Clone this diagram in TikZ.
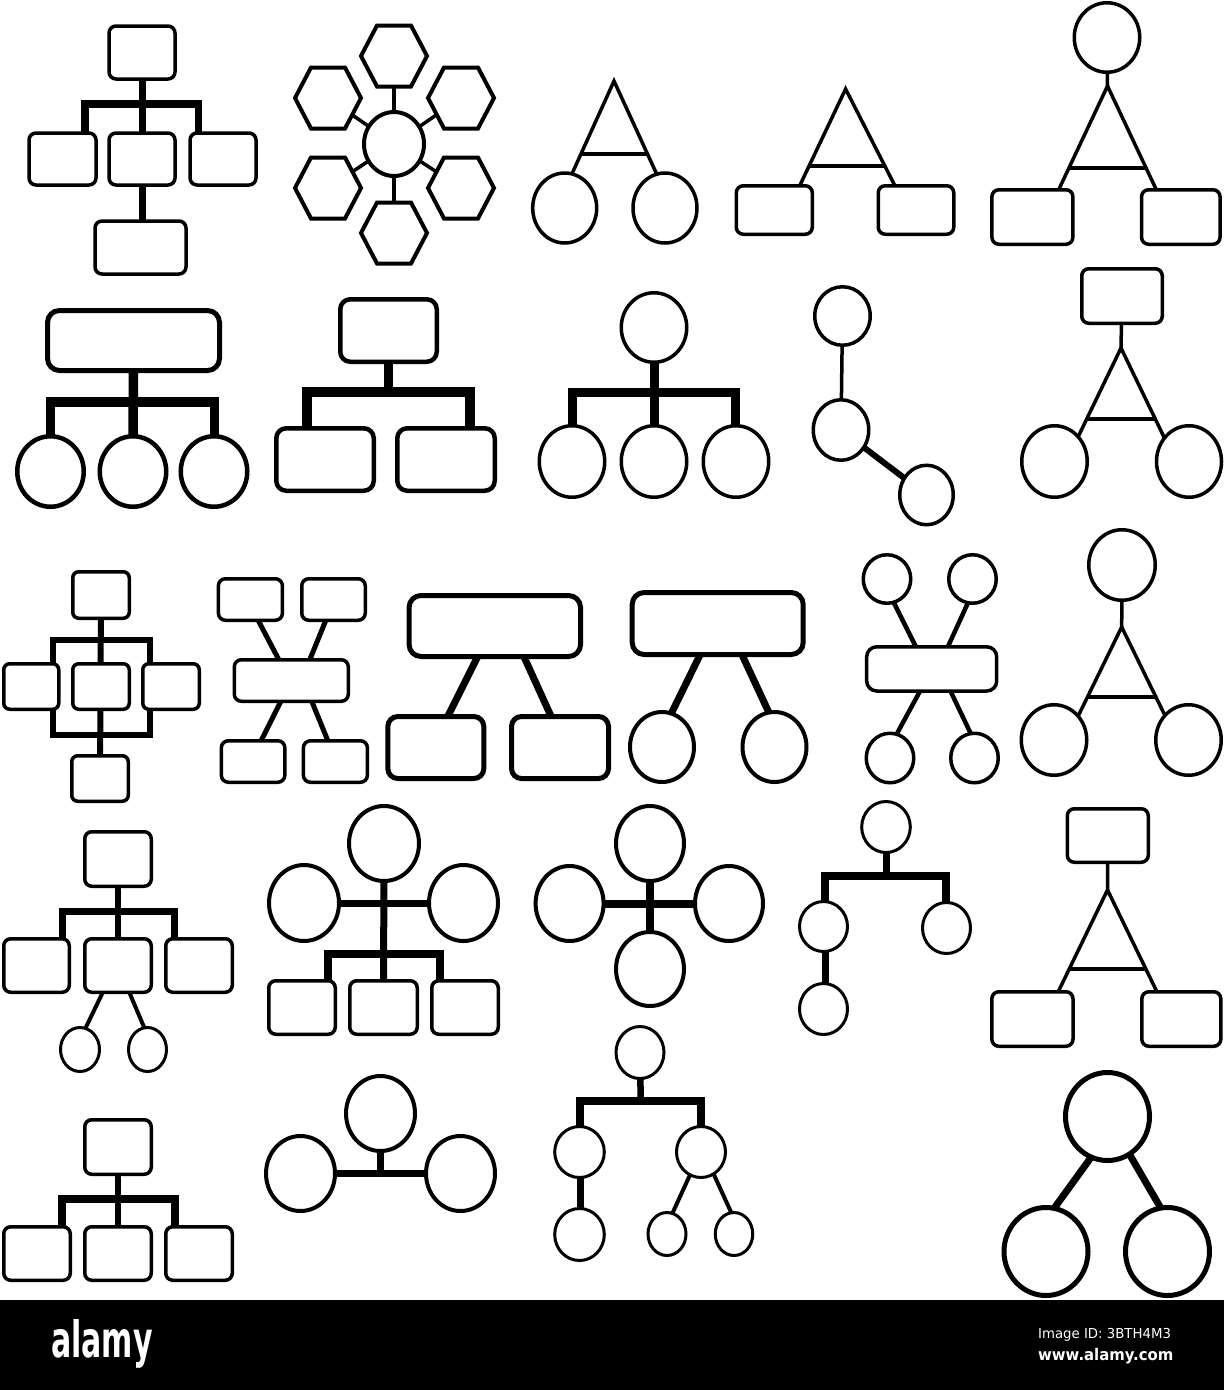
\documentclass[tikz,border=0pt]{standalone}
\usepackage{fontspec}
\usepackage{graphicx}
\newfontfamily\dvs{DejaVu Sans}
\usetikzlibrary{shapes.geometric,backgrounds,calc}
\tikzset{
  wh/.style 2 args={minimum width=#1pt,minimum height=#2pt},
  bx/.style={draw,fill=white,rounded corners=7pt,inner sep=0pt,line width=3.5pt},
  bigbx/.style={bx,rounded corners=12pt,line width=5pt},
  el/.style={ellipse,draw,fill=white,inner sep=0pt,line width=3.5pt},
  hexline/.style={draw,fill=white,line width=4pt},
  ln/.style={line width=3.5pt},
}
\begin{document}
\begin{tikzpicture}[x=1pt,y=-1pt]
\begin{scope}[on background layer]
\fill[white] (0,0) rectangle (1224,1390);
\end{scope}
\useasboundingbox (0,0) rectangle (1224,1390);
% A
\node[bx,wh={66}{53}] (A1) at (142,52.5) {};
\node[bx,wh={67}{52}] (A2) at (62.5,159) {};
\node[bx,wh={66}{52}] (A3) at (142,159) {};
\node[bx,wh={66}{52}] (A4) at (223,159) {};
\node[bx,wh={91}{53}] (A5) at (140.5,247.5) {};
% B
\node[el,line width=4pt,wh={60}{64}] (B0) at (394,144) {};
\foreach \n/\cx/\cy in {B1/394/56,B2/328/98,B3/461/98,B4/328/188,B5/461/188,B6/394/233}{
  \coordinate (\n) at (\cx,\cy);
  \begin{scope}[shift={(\n)}]
    \draw[hexline] (-33,0) -- (-17,-30.5) -- (17,-30.5) -- (33,0) -- (17,30.5) -- (-17,30.5) -- cycle;
  \end{scope}
}
% C
\node[el,wh={64}{70}] (C1) at (564.7,208) {};
\node[el,wh={64}{70}] (C2) at (665,208) {};
% D
\node[bx,wh={76}{48.5}] (D1) at (774.3,210) {};
\node[bx,wh={75.5}{48.5}] (D2) at (916,210) {};
% E
\node[el,wh={65.5}{69.5}] (E0) at (1107,37.5) {};
\node[bx,wh={81}{54.5}] (E1) at (1032.4,217) {};
\node[bx,wh={78.5}{54.5}] (E2) at (1180.8,217) {};
% F
\node[bigbx,wh={172}{60}] (F0) at (133.5,340.5) {};
\node[el,line width=4.5pt,wh={66.5}{70.5}] (F1) at (50.5,471.5) {};
\node[el,line width=4.5pt,wh={66.5}{70.5}] (F2) at (133,471.5) {};
\node[el,line width=4.5pt,wh={66.5}{70.5}] (F3) at (214,471.5) {};
% G
\node[bx,line width=4.5pt,rounded corners=10pt,wh={96.5}{62.5}] (G0) at (388.5,330.5) {};
\node[bx,line width=4.5pt,rounded corners=10pt,wh={97.5}{62.5}] (G1) at (325,459.5) {};
\node[bx,line width=4.5pt,rounded corners=10pt,wh={97.5}{62.5}] (G2) at (446,459.5) {};
% H
\node[el,wh={65.5}{69.5}] (H0) at (654,327.5) {};
\node[el,wh={65.5}{71.5}] (H1) at (572,461.5) {};
\node[el,wh={65.5}{71.5}] (H2) at (654,461.5) {};
\node[el,wh={65.5}{71.5}] (H3) at (736,461.5) {};
% I
\node[el,wh={55.5}{58.5}] (I1) at (842.5,316) {};
\node[el,wh={55.5}{60.5}] (I2) at (841,430) {};
\node[el,wh={53.5}{59.5}] (I3) at (926.5,495) {};
% J
\node[bx,wh={80.5}{54.5}] (J0) at (1122,296) {};
\node[el,wh={65.5}{71.5}] (J1) at (1054.5,461.5) {};
\node[el,wh={65}{71.5}] (J2) at (1189,461.5) {};
% K
\node[bx,rounded corners=6pt,wh={56.5}{46.5}] (K0) at (101,595) {};
\node[bx,rounded corners=6pt,wh={55}{45.5}] (K1) at (31.25,686.5) {};
\node[bx,rounded corners=6pt,wh={56.5}{45.5}] (K2) at (101,686.5) {};
\node[bx,rounded corners=6pt,wh={56.5}{45.5}] (K3) at (171,686.5) {};
\node[bx,rounded corners=6pt,wh={56.5}{45.5}] (K4) at (100,778.5) {};
% L
\node[bx,wh={64}{41.5}] (L1) at (250.4,599.5) {};
\node[bx,wh={63.5}{41.5}] (L2) at (333.5,599.5) {};
\node[bx,wh={114}{41.5}] (L3) at (291.3,680.5) {};
\node[bx,wh={63.5}{41.5}] (L4) at (253.1,761.5) {};
\node[bx,wh={64}{41.5}] (L5) at (335.4,761.5) {};
% M
\node[bigbx,wh={171.5}{61}] (M0) at (494.8,626) {};
\node[bx,line width=5pt,rounded corners=10pt,wh={96}{62}] (M1) at (435.8,747.5) {};
\node[bx,line width=5pt,rounded corners=10pt,wh={97}{62}] (M2) at (560,747.5) {};
% N
\node[bigbx,wh={171}{62}] (N0) at (717.7,623.5) {};
\node[el,line width=4pt,wh={64}{70}] (N1) at (662,747) {};
\node[el,line width=4pt,wh={64}{70}] (N2) at (774.5,747) {};
% O
\node[el,wh={47.5}{48.5}] (O1) at (887,579) {};
\node[el,wh={47.5}{48.5}] (O2) at (972.5,579) {};
\node[bx,rounded corners=10pt,wh={130}{44.2}] (O3) at (931.7,668.9) {};
\node[el,wh={47.5}{49.5}] (O4) at (890,758) {};
\node[el,wh={47.5}{49.5}] (O5) at (974.5,758) {};
% P
\node[el,wh={66.5}{70.5}] (P0) at (1122,565) {};
\node[el,wh={65.5}{70.5}] (P1) at (1054,740) {};
\node[el,wh={65.5}{70.5}] (P2) at (1188.5,740) {};
% Q
\node[bx,wh={66.5}{54.5}] (Q0) at (118,859) {};
\node[bx,wh={65.5}{53.5}] (Q1) at (36.5,965.5) {};
\node[bx,wh={66.5}{53.5}] (Q2) at (118,965.5) {};
\node[bx,wh={66.5}{53.5}] (Q3) at (199,965.5) {};
\node[el,line width=3pt,wh={39}{44}] (Q4) at (80,1049.5) {};
\node[el,line width=3pt,wh={38}{44}] (Q5) at (147.5,1049.5) {};
% R
\node[el,line width=4pt,wh={70}{75}] (R0) at (384,843.5) {};
\node[el,line width=4pt,wh={70}{76}] (R1) at (304,903) {};
\node[el,line width=4pt,wh={69}{76}] (R2) at (463.5,903) {};
\node[bx,wh={66.5}{53.5}] (R3) at (302,1007.5) {};
\node[bx,wh={67.5}{53.5}] (R4) at (383.5,1007.5) {};
\node[bx,wh={66.5}{53.5}] (R5) at (465,1007.5) {};
% S
\node[el,line width=4pt,wh={68}{75}] (S0) at (650,843.5) {};
\node[el,line width=4pt,wh={68}{75}] (S1) at (569.6,903.5) {};
\node[el,line width=4pt,wh={68}{75}] (S2) at (729,903.5) {};
\node[el,line width=4pt,wh={68}{74}] (S3) at (650,969) {};
% T
\node[el,line width=3pt,wh={48.6}{51}] (T0) at (886,827) {};
\node[el,line width=3pt,wh={48}{50}] (T1) at (823.5,926.5) {};
\node[el,line width=3pt,wh={48}{51}] (T2) at (946.5,928) {};
\node[el,line width=3pt,wh={48}{51}] (T3) at (823.5,1009) {};
% U
\node[bx,wh={81}{53.5}] (U0) at (1107.8,835.5) {};
\node[bx,wh={81.2}{54.5}] (U1) at (1032.4,1019) {};
\node[bx,wh={79}{54.5}] (U2) at (1181.3,1019) {};
% V
\node[bx,wh={66.5}{54.5}] (V0) at (118,1147) {};
\node[bx,wh={66.5}{53.5}] (V1) at (37,1253.5) {};
\node[bx,wh={66.5}{53.5}] (V2) at (118,1253.5) {};
\node[bx,wh={66.5}{53.5}] (V3) at (199,1253.5) {};
% W
\node[el,line width=4pt,wh={69}{75}] (W0) at (380.5,1113.5) {};
\node[el,line width=4pt,wh={69}{75}] (W1) at (300.5,1173.5) {};
\node[el,line width=4pt,wh={69}{75}] (W2) at (460.5,1173.5) {};
% X
\node[el,line width=3pt,wh={48}{52}] (X0) at (640,1052.5) {};
\node[el,line width=3pt,wh={49.6}{51}] (X1) at (579.5,1152) {};
\node[el,line width=3pt,wh={49}{51}] (X2) at (701,1152) {};
\node[el,line width=3pt,wh={49.6}{52}] (X3) at (579.5,1234.5) {};
\node[el,line width=3pt,wh={38}{43}] (X4) at (667,1234) {};
\node[el,line width=3pt,wh={37.5}{43}] (X5) at (734,1234) {};
% Y
\node[el,line width=5pt,wh={84}{88}] (Y0) at (1107.5,1116.5) {};
\node[el,line width=5pt,wh={84}{88}] (Y1) at (1046,1251.5) {};
\node[el,line width=5pt,wh={84}{88}] (Y2) at (1167.5,1251.5) {};

\begin{scope}[on background layer]
% A
\draw[line width=7pt] (A1.center) -- (A3.center |- A5.center);
\draw[line width=7.5pt] (85,159) -- (85,104) -- (198.5,104) -- (198.5,159);
% B
\foreach \h in {B1,B2,B3,B4,B5,B6} \draw[ln] (B0.center) -- (\h);
% C
\draw[ln] (566.9,185) -- (614,81) -- (661.7,185);
\draw[ln] (581,154) -- (647.4,154);
% D
\draw[ln] (795.3,195) -- (845.6,89) -- (899.6,195);
\draw[ln] (809,166) -- (884.8,166);
% E
\draw[ln] (E0.center) -- (1107.5,86);
\draw[ln] (1054.8,198) -- (1107.5,86) -- (1160.2,198);
\draw[ln] (1068.9,168) -- (1146.1,168);
% F
\draw[line width=9.5pt] (F0.center) -- (F2.center);
\draw[line width=9.5pt] (50.5,471) -- (50.5,402) -- (214.5,402) -- (214.5,471);
% G
\draw[line width=9.5pt] (G0.center) -- (388.5,392);
\draw[line width=9.5pt] (307,459) -- (307,392) -- (470,392) -- (470,459);
% H
\draw[line width=9pt] (H0.center) -- (H2.center);
\draw[line width=9pt] (572,461) -- (572,392) -- (735.5,392) -- (735.5,461);
% I
\draw[ln] (I1.center) -- (I2.center);
\draw[line width=6pt] (I2.center) -- (I3.center);
% J
\draw[ln] (J0.center) -- (1121,348);
\draw[ln] (1073.2,447) -- (1121,348) -- (1168.8,447);
\draw[ln] (1086.7,419) -- (1155.3,419);
% K
\draw[line width=6pt] (52.5,640) rectangle (149.5,735);
\draw[line width=6pt] (K0.center) -- (K4.center);
% L
\draw[line width=5pt] (255.4,615) -- (281.6,665);
\draw[line width=5pt] (328,615) -- (307.6,665);
\draw[line width=5pt] (283.5,696) -- (258.5,746);
\draw[line width=5pt] (309.6,696) -- (330,746);
% M
\draw[line width=7pt] (479,654) -- (446.5,719);
\draw[line width=7pt] (522.7,654) -- (552.3,719);
% N
\draw[line width=7pt] (701.5,652) -- (667.1,722);
\draw[line width=7pt] (740.7,652) -- (773.3,722);
% O
\draw[line width=4.5pt] (892,599) -- (917.5,650);
\draw[line width=4.5pt] (969.7,599) -- (946.4,650);
\draw[line width=4.5pt] (921.7,688) -- (895.1,737);
\draw[line width=4.5pt] (949,688) -- (972.4,737);
% P
\draw[ln] (P0.center) -- (1121.7,627);
\draw[ln] (1073.8,725) -- (1121.7,627) -- (1169.6,725);
\draw[ln] (1087.5,697) -- (1155.9,697);
% Q
\draw[line width=6pt] (Q0.center) -- (Q2.center);
\draw[line width=7pt] (62,965) -- (62,911) -- (174.5,911) -- (174.5,965);
\draw[line width=4pt] (104.4,989) -- (83.6,1032);
\draw[line width=4pt] (127.9,989) -- (146.1,1032);
% R
\draw[line width=7pt] (R1.center) -- (R2.center);
\draw[line width=7pt] (R0.center) -- (R4.center);
\draw[line width=8pt] (327.5,1007) -- (327.5,953.5) -- (440,953.5) -- (440,1007);
% S
\draw[line width=8pt] (S1.center) -- (S2.center);
\draw[line width=7.5pt] (S0.center) -- (S3.center);
% T
\draw[line width=7pt] (T0.center) -- (886,876);
\draw[line width=8pt] (825,926) -- (825,876) -- (946.3,876) -- (946.3,928);
\draw[line width=7pt] (825,926) -- (825,1009);
% U
\draw[ln] (U0.center) -- (1107.5,890);
\draw[ln] (1054.2,1000) -- (1107.5,890) -- (1160.9,1000);
\draw[ln] (1069.2,969) -- (1145.8,969);
% V
\draw[line width=6pt] (V0.center) -- (V2.center);
\draw[line width=8pt] (61.5,1253) -- (61.5,1198.5) -- (174.5,1198.5) -- (174.5,1253);
% W
\draw[line width=7pt] (W1.center) -- (W2.center);
\draw[line width=7pt] (W0.center) -- (380.5,1173.5);
% X
\draw[line width=6.5pt] (X0.center) -- (640.7,1101);
\draw[line width=7.5pt] (580,1152) -- (580,1101) -- (701,1101) -- (701,1152);
\draw[line width=7pt] (580,1152) -- (580,1234);
\draw[line width=4pt] (691.3,1172) -- (670.7,1217);
\draw[line width=4pt] (712.7,1172) -- (733.3,1217);
% Y
\draw[line width=7pt] (1094.2,1153) -- (1052.9,1210);
\draw[line width=7pt] (1128.7,1153) -- (1161.9,1210);
\end{scope}

% bottom band
\fill[black] (0,1300) rectangle (1224,1390);
\node[anchor=base west,inner sep=0pt,text=white] (logo) at (51,1357)
  {\scalebox{0.6}[1]{\dvs\bfseries\fontsize{50}{50}\selectfont alamy}};
\node[anchor=base west,inner sep=0pt,text=white] (imgid) at (1038,1338)
  {\scalebox{0.97}[1]{\dvs\fontsize{13.7}{14}\selectfont Image ID: 3BTH4M3}};
\node[anchor=base west,inner sep=0pt,text=white] (www) at (1038,1360)
  {\scalebox{0.93}[1]{\dvs\bfseries\fontsize{16}{16}\selectfont www.alamy.com}};
\end{tikzpicture}
\end{document}
